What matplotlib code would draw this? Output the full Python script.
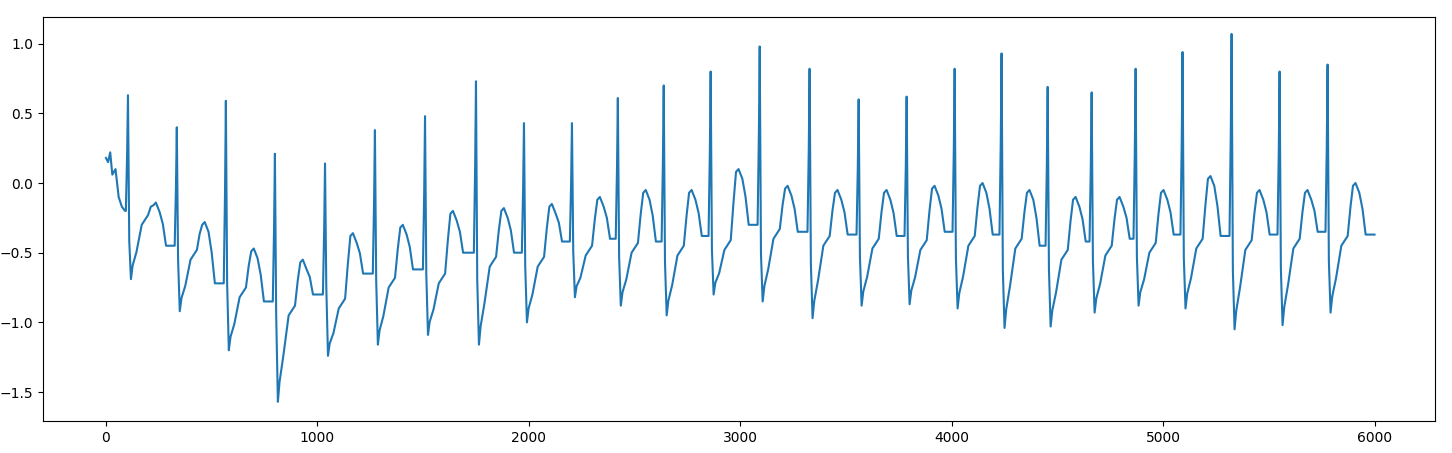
import numpy as np
import matplotlib
matplotlib.use("Agg")
import matplotlib.pyplot as plt

# per-beat values
peak_x = [104, 335, 567, 799, 1036, 1272, 1509, 1750, 1977, 2204, 2421, 2638,
          2860, 3092, 3328, 3560, 3787, 4014, 4236, 4454, 4662, 4870, 5092,
          5324, 5551, 5778]
peak_y = [0.63, 0.40, 0.59, 0.21, 0.14, 0.38, 0.48, 0.73, 0.43, 0.43, 0.61, 0.70,
          0.80, 0.98, 0.82, 0.60, 0.62, 0.82, 0.93, 0.69, 0.65, 0.82, 0.94,
          1.07, 0.80, 0.85]
trough_y = [-0.69, -0.92, -1.20, -1.57, -1.24, -1.16, -1.09, -1.16, -1.00, -0.82,
            -0.88, -0.95, -0.80, -0.85, -0.97, -0.88, -0.87, -0.90, -1.04, -1.03,
            -0.93, -0.88, -0.90, -1.05, -1.02, -0.93]
t_wave_y = [-0.14, -0.28, -0.47, -0.55, -0.36, -0.30, -0.20, -0.18, -0.15, -0.10,
            -0.05, -0.05, 0.10, -0.02, -0.05, -0.05, -0.02, 0.00, -0.05, -0.10,
            -0.10, -0.05, 0.05, -0.05, -0.05, 0.00]
base_y = [-0.20, -0.45, -0.72, -0.85, -0.80, -0.65, -0.62, -0.50, -0.50, -0.42,
          -0.40, -0.42, -0.38, -0.30, -0.35, -0.37, -0.38, -0.35, -0.37, -0.45,
          -0.42, -0.40, -0.37, -0.38, -0.37, -0.35]
start_x = [0, 10, 20, 30, 45, 60, 75, 90]
start_y = [0.18, 0.15, 0.22, 0.06, 0.10, -0.10, -0.17, -0.20]
end_x, end_y = 6000, -0.37

xs, ys = list(start_x), list(start_y)
for i, p in enumerate(peak_x):
    nb = base_y[i + 1] if i + 1 < len(base_y) else end_y
    b, tr, tw = base_y[i], trough_y[i], t_wave_y[i]
    xs += [p - 10, p - 4, p, p + 6, p + 14, p + 22, p + 40, p + 65, p + 95,
           p + 108, p + 120, p + 132, p + 150, p + 165, p + 180]
    ys += [b, (b + peak_y[i]) / 2, peak_y[i], tr * 0.6, tr, tr * 0.8 + 0.2 * b,
           tr * 0.4 + 0.6 * b - 0.1, b - 0.1, b - 0.03, (b + tw) / 2,
           tw - 0.02, tw, tw - 0.07, (tw + nb) / 2, nb]
xs.append(end_x)
ys.append(end_y)
xs, ys = np.array(xs), np.array(ys)
keep = xs <= end_x
xs, ys = xs[keep], ys[keep]

fig = plt.figure(figsize=(14.52, 4.53), dpi=100)
ax = fig.add_subplot(111)
fig.subplots_adjust(left=0.0296, right=0.988, top=0.962, bottom=0.07)
ax.plot(xs, ys, color="#1f77b4", linewidth=1.5)
ax.set_xlim(-298, 6284)
ax.set_ylim(-1.71, 1.19)
ax.set_xticks([0, 1000, 2000, 3000, 4000, 5000, 6000])
ax.set_yticks([-1.5, -1.0, -0.5, 0.0, 0.5, 1.0])
fig.savefig("out.png")
